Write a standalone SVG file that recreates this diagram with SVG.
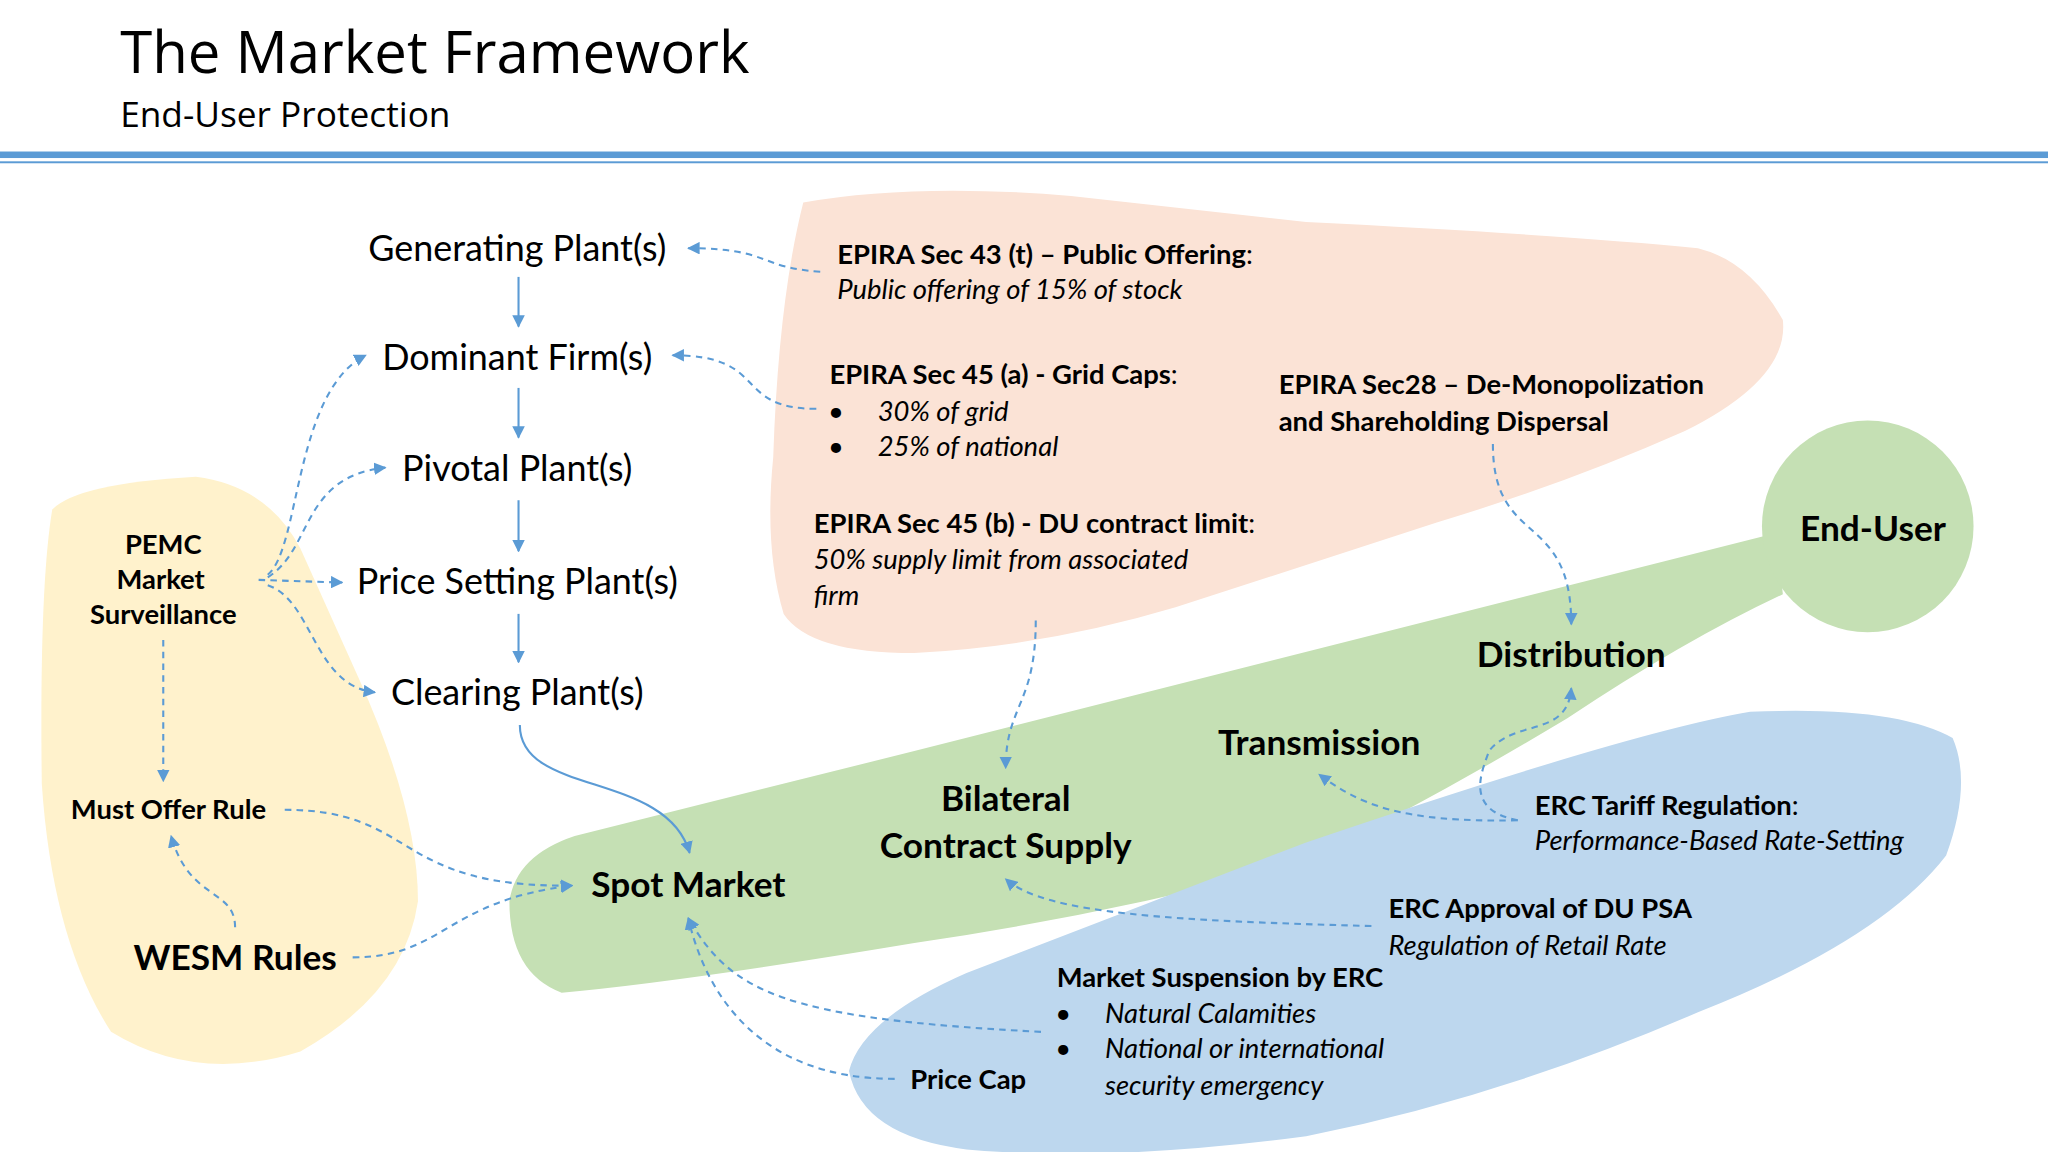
<svg xmlns="http://www.w3.org/2000/svg" width="2048" height="1152" viewBox="0 0 2048 1152">
<defs>
<style>
text{font-family:Lato,"Open Sans","Liberation Sans",sans-serif;fill:#000}
.n{font-size:27.5px;text-anchor:middle}
.b{font-size:21px;font-weight:bold}
.bc{font-size:21px;font-weight:bold;text-anchor:middle}
.big{font-size:27px;font-weight:bold;text-anchor:middle}
.i{font-size:21px;font-style:italic}
.r{font-size:21px}
.d{fill:none;stroke:#5b9bd5;stroke-width:1.6;stroke-dasharray:5 4;marker-end:url(#a)}
.s{fill:none;stroke:#5b9bd5;stroke-width:1.6;marker-end:url(#a)}
</style>
<marker id="a" viewBox="0 0 10 10" refX="9" refY="5" markerWidth="6" markerHeight="6" orient="auto-start-reverse"><path d="M0,0L10,5L0,10z" fill="#5b9bd5"/></marker>
</defs>
<rect width="2048" height="1152" fill="#fff"/>
<g transform="scale(1.30612)">
<text x="92" y="56" style="font-size:44.5px;font-family:'Open Sans','Liberation Sans',sans-serif" fill="#222">The Market Framework</text>
<text x="92" y="97" style="font-size:27px;font-family:'Open Sans','Liberation Sans',sans-serif" fill="#222">End-User Protection</text>
<rect x="0" y="116" width="1568" height="5" fill="#5b9bd5"/>
<rect x="0" y="123.5" width="1568" height="1.5" fill="#5b9bd5"/>
<g id="shapes">
<path d="M40,390 Q60,370 150,365 Q205,372 230,420 L275,520 Q320,620 320,690 Q310,760 230,805 Q150,830 85,790 Q40,720 32,600 Q30,450 40,390z" fill="#fff2cc"/>
<path d="M615,155 Q700,140 820,150 L1000,170 Q1200,180 1300,190 Q1340,200 1365,245 Q1370,290 1290,330 Q1200,370 1100,400 L900,465 Q800,495 700,500 Q620,500 600,470 Q585,420 592,350 Q596,230 615,155z" fill="#fbe3d6"/>
<path d="M390,690 Q395,655 440,640 L700,575 L1360,408 L1365,455 Q1290,490 1200,550 Q1100,610 1000,660 Q850,700 700,722 Q520,752 430,760 Q390,745 390,690z" fill="#c5e0b4"/>
<circle cx="1430" cy="403" r="81" fill="#c5e0b4"/>
<path d="M650,820 Q660,780 740,745 L1000,645 Q1250,560 1340,545 Q1450,540 1495,565 Q1510,600 1490,655 Q1440,720 1300,775 Q1150,840 1000,870 Q850,890 740,880 Q660,870 650,820z" fill="#bdd7ee"/>
</g>
<g id="connectors">
<path class="s" d="M397,212V250"/><path class="s" d="M397,297V335"/><path class="s" d="M397,383V422"/><path class="s" d="M397,470V507"/>
<path class="s" d="M398,555C398,610 510,590 528,653"/>
<path class="d" d="M205,440C230,420 225,300 280,272"/>
<path class="d" d="M205,442C240,420 230,365 295,358"/>
<path class="d" d="M198,444L262,446"/>
<path class="d" d="M205,448C240,460 240,525 287,530"/>
<path class="d" d="M125,490V598"/>
<path class="d" d="M180,710C180,680 145,690 131,640"/>
<path class="d" d="M270,733C340,733 340,690 438,678"/>
<path class="d" d="M218,620C320,620 300,680 438,678"/>
<path class="d" d="M628,208C580,205 590,190 527,190"/>
<path class="d" d="M625,313C560,313 590,272 515,272"/>
<path class="d" d="M793,475C793,540 770,540 770,588"/>
<path class="d" d="M1143,340C1143,420 1203,390 1203,478"/>
<path class="d" d="M1162,628C1070,630 1040,615 1010,593"/>
<path class="d" d="M1162,628C1120,620 1135,590 1140,575C1160,550 1200,565 1203,527"/>
<path class="d" d="M1050,709C900,705 800,700 770,673"/>
<path class="d" d="M797,790C600,780 560,760 527,703"/>
<path class="d" d="M685,826C580,826 540,760 527,703"/>
</g>
<g id="plants">
<text class="n" x="396" y="200">Generating Plant(s)</text>
<text class="n" x="396" y="283">Dominant Firm(s)</text>
<text class="n" x="396" y="368">Pivotal Plant(s)</text>
<text class="n" x="396" y="455">Price Setting Plant(s)</text>
<text class="n" x="396" y="540">Clearing Plant(s)</text>
</g>
<g id="pemc"><text class="bc" x="125" y="424">PEMC</text><text class="bc" x="123" y="451">Market</text><text class="bc" x="125" y="478">Surveillance</text></g>
<g id="mustoffer"><text class="bc" x="129" y="627">Must Offer Rule</text></g>
<g id="wesm"><text class="big" x="180" y="743">WESM Rules</text></g>
<g id="spot"><text class="big" x="527" y="687">Spot Market</text></g>
<g id="bilateral"><text class="big" x="770" y="621">Bilateral</text><text class="big" x="770" y="657">Contract Supply</text></g>
<g id="transmission"><text class="big" x="1010" y="578">Transmission</text></g>
<g id="distribution"><text class="big" x="1203" y="511">Distribution</text></g>
<g id="enduser"><text class="big" x="1434" y="414">End-User</text></g>
<g id="sec43"><text class="b" x="641" y="202">EPIRA Sec 43 (t) – Public Offering<tspan font-weight="normal">:</tspan></text><text class="i" x="641" y="229">Public offering of 15% of stock</text></g>
<g id="sec45a"><text class="b" x="635" y="294">EPIRA Sec 45 (a) - Grid Caps<tspan font-weight="normal">:</tspan></text>
<text class="r" x="634" y="322">•</text><text class="i" x="672" y="322">30% of grid</text>
<text class="r" x="634" y="349">•</text><text class="i" x="672" y="349">25% of national</text></g>
<g id="sec45b"><text class="b" x="623" y="408">EPIRA Sec 45 (b) - DU contract limit<tspan font-weight="normal">:</tspan></text><text class="i" x="623" y="436">50% supply limit from associated</text><text class="i" x="623" y="463">firm</text></g>
<g id="sec28"><text class="b" x="979" y="302">EPIRA Sec28 – De-Monopolization</text><text class="b" x="979" y="330">and Shareholding Dispersal</text></g>
<g id="tariff"><text class="b" x="1175" y="624">ERC Tariff Regulation<tspan font-weight="normal">:</tspan></text><text class="i" x="1175" y="651">Performance-Based Rate-Setting</text></g>
<g id="psa"><text class="b" x="1063" y="703">ERC Approval of DU PSA</text><text class="i" x="1063" y="731">Regulation of Retail Rate</text></g>
<g id="suspension"><text class="b" x="809" y="756">Market Suspension by ERC</text>
<text class="r" x="808" y="783">•</text><text class="i" x="846" y="783">Natural Calamities</text>
<text class="r" x="808" y="810">•</text><text class="i" x="846" y="810">National or international</text>
<text class="i" x="846" y="838">security emergency</text></g>
<g id="pricecap"><text class="b" x="697" y="834">Price Cap</text></g>
</g>
</svg>
